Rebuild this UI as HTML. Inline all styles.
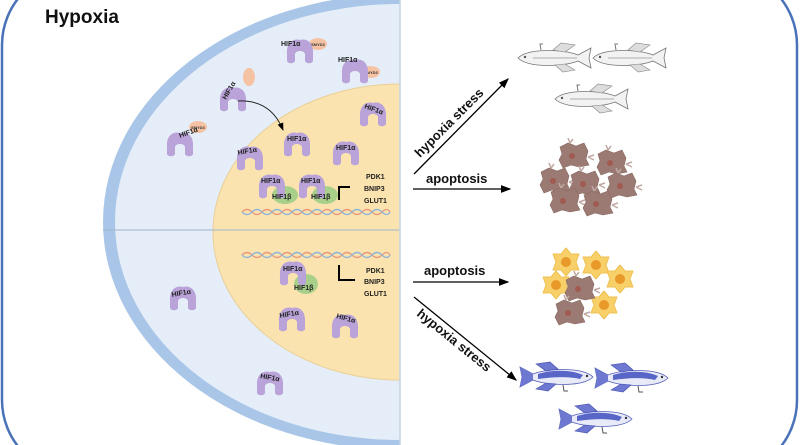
<!DOCTYPE html>
<html><head><meta charset="utf-8"><style>
html,body{margin:0;padding:0;background:#fff;overflow:hidden}
svg{display:block}
text{font-family:"Liberation Sans",sans-serif;font-weight:bold}
</style></head><body>
<svg width="800" height="445" viewBox="0 0 800 445" xmlns="http://www.w3.org/2000/svg">
<defs>
<g id="hif">
 <path d="M-13,4 C-14,-8 -6,-12 0,-10 C6,-12 14,-8 13,4 L13,11 C12,14 6,14 5,11 L5,4 C4,0 -4,0 -5,4 L-5,11 C-6,14 -12,14 -13,11 Z" fill="#b9a3d8"/>
</g>
<g id="fishW">
 <path d="M-35,0 C-25,-10 10,-9 25,-3 L38,-10 L36,0 L38,10 L25,3 C10,9 -25,10 -35,0Z" fill="#f2f2f2" stroke="#777" stroke-width="0.8"/>
 <path d="M0,-8 L8,-15 L22,-13 L12,-6Z M2,7 L10,14 L22,12 L12,6Z" fill="#ddd" stroke="#888" stroke-width="0.6"/>
 <line x1="-20" y1="0" x2="24" y2="0" stroke="#999" stroke-width="0.8"/>
 <path d="M-12,-8 L-13,-14 L-10,-14" fill="none" stroke="#777"/>
 <circle cx="-28" cy="-1" r="1.2" fill="#555"/>
</g>
<g id="fishB">
 <path d="M35,0 C25,-10 -10,-9 -25,-3 L-38,-10 L-36,0 L-38,10 L-25,3 C-10,9 25,10 35,0Z" fill="#e9eaf8" stroke="#5560b8" stroke-width="0.8"/>
 <path d="M-20,-3 C-5,-8 15,-7 25,-2 L22,2 C10,-1 -5,0 -20,2Z" fill="#5866c8"/>
 <path d="M0,-8 L-8,-15 L-22,-13 L-12,-6Z M-2,7 L-10,14 L-22,12 L-12,6Z" fill="#6e78d0" stroke="#4550b0" stroke-width="0.6"/>
 <path d="M-38,-10 L-36,0 L-38,10 L-25,3 L-25,-3Z" fill="#6e78d0"/>
 <path d="M5,8 L6,14 L10,14" fill="none" stroke="#555"/>
 <circle cx="29" cy="-1" r="1.2" fill="#333"/>
</g>
<g id="cellB">
 <path d="M-14,-8 L-6,-12 L2,-9 L10,-12 L14,-4 L12,4 L15,10 L5,12 L-3,10 L-11,13 L-15,5 L-12,-1Z" fill="#9a7a72" stroke="#8a6a62" stroke-width="0.6"/>
 <circle cx="-2" cy="1" r="3" fill="#a05a50"/>
 <path d="M-4,-12 l-2,-5 m2,5 l3,-4 M14,2 l6,-2 m-6,2 l6,3" stroke="#c0a8a4" stroke-width="1.5" fill="none"/>
</g>
<g id="cellY">
 <path d="M0,-14 L5,-8 L13,-8 L10,0 L13,8 L5,8 L0,14 L-5,8 L-13,8 L-10,0 L-13,-8 L-5,-8Z" fill="#f8d06a" stroke="#efc050" stroke-width="1" stroke-linejoin="round"/>
 <circle cx="0" cy="0" r="5" fill="#e8992a"/>
</g>
<marker id="ah" markerWidth="8" markerHeight="8" refX="7" refY="4" orient="auto"><path d="M0,1 L8,4 L0,7Z" fill="#000"/></marker>
</defs>
<rect width="800" height="445" fill="#fff"/>
<clipPath id="lh"><rect x="0" y="0" width="400" height="445"/></clipPath>
<g clip-path="url(#lh)">
 <ellipse cx="400" cy="222" rx="297" ry="228" fill="#a9c6e8"/>
 <ellipse cx="400" cy="222" rx="285" ry="218" fill="#e5eef8"/>
 <ellipse cx="400" cy="232" rx="187" ry="148" fill="#fbe3b0" stroke="#e9cf98" stroke-width="1"/>
</g>
<line x1="103" y1="230" x2="400" y2="230" stroke="#9fb4cc" stroke-width="1"/>
<line x1="400" y1="0" x2="400" y2="445" stroke="#c6d3e2" stroke-width="1.5"/>
<rect x="2" y="-30" width="795" height="505" rx="75" fill="none" stroke="#4a72b8" stroke-width="2.5"/>
<text x="45" y="23" font-size="19" fill="#111">Hypoxia</text>
<g fill="#f6c2a4"><ellipse cx="318" cy="44" rx="9" ry="6"/><ellipse cx="371" cy="72" rx="9" ry="6"/><ellipse cx="249" cy="77" rx="6" ry="9"/><ellipse cx="198" cy="127" rx="9" ry="6"/></g>
<g font-size="4" fill="#333"><text x="311" y="46">SMYD3</text><text x="364" y="74">SMYD3</text><text x="191" y="129">SMYD3</text></g>
<g>
<use href="#hif" x="300" y="50"/><use href="#hif" x="355" y="70"/><use href="#hif" x="233" y="98"/><use href="#hif" x="180" y="143"/>
<use href="#hif" x="373" y="113"/><use href="#hif" x="297" y="143"/><use href="#hif" x="250" y="157"/><use href="#hif" x="346" y="152"/>
<use href="#hif" x="183" y="297"/><use href="#hif" x="292" y="318"/><use href="#hif" x="345" y="325"/><use href="#hif" x="270" y="382"/>
</g>
<g fill="#a8d08a"><ellipse cx="285" cy="195" rx="13" ry="9"/><ellipse cx="325" cy="195" rx="13" ry="9"/><ellipse cx="306" cy="284" rx="12" ry="10"/></g>
<use href="#hif" x="272" y="185"/><use href="#hif" x="312" y="185"/><use href="#hif" x="293" y="272"/>
<g font-size="7" fill="#222">
<text x="281" y="46">HIF1α</text><text x="338" y="62">HIF1α</text><text x="180" y="138" transform="rotate(-20 180 138)">HIF1α</text>
<text x="226" y="100" transform="rotate(-60 226 100)">HIF1α</text>
<text x="364" y="108" transform="rotate(20 364 108)">HIF1α</text><text x="287" y="141">HIF1α</text><text x="238" y="155" transform="rotate(-10 238 155)">HIF1α</text><text x="336" y="150">HIF1α</text>
<text x="261" y="183">HIF1α</text><text x="301" y="183">HIF1α</text><text x="272" y="199">HIF1β</text><text x="311" y="199">HIF1β</text>
<text x="283" y="271">HIF1α</text><text x="294" y="290">HIF1β</text>
<text x="172" y="297" transform="rotate(-10 172 297)">HIF1α</text><text x="280" y="318" transform="rotate(-10 280 318)">HIF1α</text><text x="336" y="318" transform="rotate(15 336 318)">HIF1α</text><text x="260" y="378" transform="rotate(10 260 378)">HIF1α</text>
<text x="366" y="179">PDK1</text><text x="364" y="191">BNIP3</text><text x="364" y="203">GLUT1</text>
<text x="366" y="273">PDK1</text><text x="364" y="284">BNIP3</text><text x="364" y="296">GLUT1</text>
</g>
<path d="M339,200 L339,187 L350,187" fill="none" stroke="#000" stroke-width="2"/>
<path d="M339,265 L339,280 L355,280" fill="none" stroke="#000" stroke-width="2"/>
<path d="M238,101 C260,100 275,110 283,130" fill="none" stroke="#222" stroke-width="1" marker-end="url(#ah)"/>
<g fill="none" stroke-width="1.3">
<path d="M242,212 q5,-5 10,0 t10,0 t10,0 t10,0 t10,0 t10,0 t10,0 t10,0 t10,0 t10,0 t10,0 t10,0 t10,0 t10,0 t8,0" stroke="#e89a7a"/>
<path d="M242,212 q5,5 10,0 t10,0 t10,0 t10,0 t10,0 t10,0 t10,0 t10,0 t10,0 t10,0 t10,0 t10,0 t10,0 t10,0 t8,0" stroke="#8fb6d8"/>
<path d="M242,255 q5,-5 10,0 t10,0 t10,0 t10,0 t10,0 t10,0 t10,0 t10,0 t10,0 t10,0 t10,0 t10,0 t10,0 t10,0 t8,0" stroke="#e89a7a"/>
<path d="M242,255 q5,5 10,0 t10,0 t10,0 t10,0 t10,0 t10,0 t10,0 t10,0 t10,0 t10,0 t10,0 t10,0 t10,0 t10,0 t8,0" stroke="#8fb6d8"/>
</g>
<g stroke="#000" stroke-width="1.3" fill="none" marker-end="url(#ah)">
<line x1="414" y1="174" x2="508" y2="79"/>
<line x1="413" y1="189" x2="510" y2="189"/>
<line x1="413" y1="282" x2="508" y2="282"/>
<line x1="414" y1="297" x2="516" y2="380"/>
</g>
<g font-size="13" fill="#111">
<text x="0" y="0" transform="translate(420,158) rotate(-45)">hypoxia stress</text>
<text x="426" y="183">apoptosis</text>
<text x="424" y="275">apoptosis</text>
<text x="0" y="0" transform="translate(416,315) rotate(39)">hypoxia stress</text>
</g>
<use href="#fishW" x="553" y="58"/><use href="#fishW" x="628" y="58"/><use href="#fishW" x="590" y="99"/>
<use href="#cellB" x="574" y="155"/><use href="#cellB" x="612" y="162"/><use href="#cellB" x="555" y="180"/>
<use href="#cellB" x="585" y="183"/><use href="#cellB" x="622" y="185"/><use href="#cellB" x="565" y="200"/><use href="#cellB" x="598" y="203"/>
<use href="#cellY" x="566" y="262"/><use href="#cellY" x="596" y="265"/><use href="#cellY" x="620" y="279"/>
<use href="#cellY" x="556" y="285"/><use href="#cellY" x="604" y="305"/>
<use href="#cellB" x="580" y="288"/><use href="#cellB" x="570" y="312"/>
<use href="#fishB" x="558" y="377"/><use href="#fishB" x="633" y="378"/><use href="#fishB" x="597" y="419"/>
</svg>
</body></html>
